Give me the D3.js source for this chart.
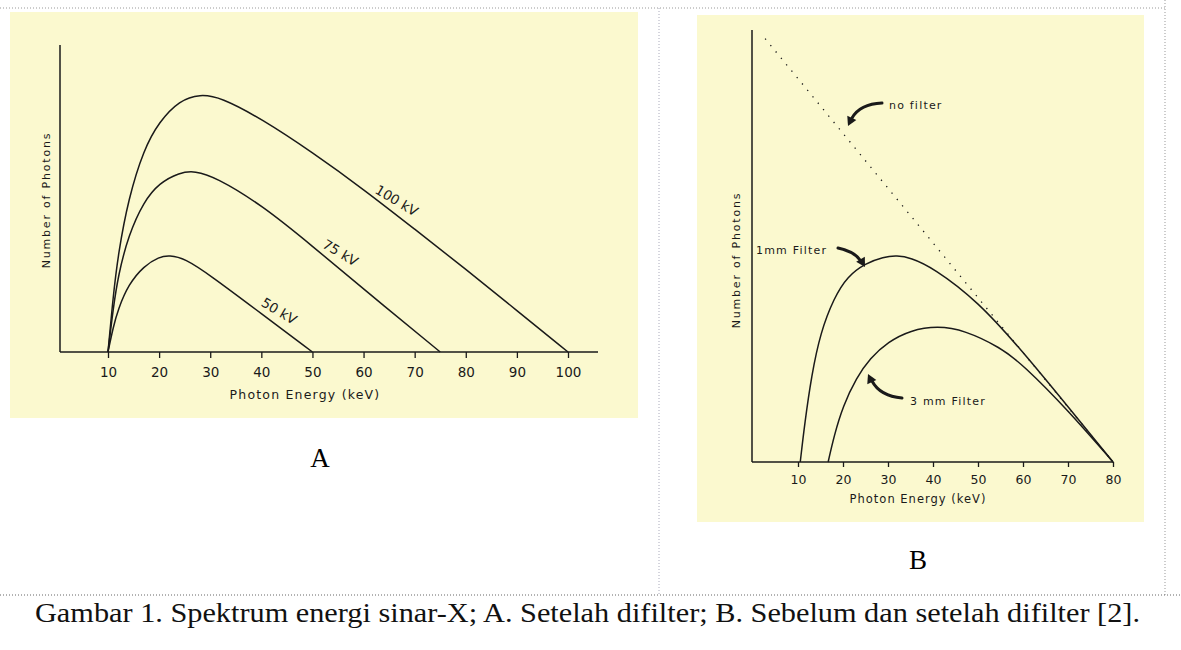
<!DOCTYPE html>
<html><head><meta charset="utf-8">
<script src="https://cdn.jsdelivr.net/npm/d3@7"></script>
<style>body{margin:0;background:#fff}svg{display:block}</style>
</head><body>
<svg id="fig" width="1181" height="650"></svg>
<script>
// --------------------------------------
//  Data
// --------------------------------------
const ticksA = [10, 20, 30, 40, 50, 60, 70, 80, 90, 100];
const kv100 = [[10,0],[11,18],[12,32],[14,50],[17,66],[20,75],[24,82],[28,84],[32,83],[40,76],[50,65],[60,53],[70,40],[80,27],[90,13.5],[100,0]];
const kv75 = [[10,0],[11,14],[12,25],[14,38],[17,49],[20,55],[24,58.5],[27,59],[31,57],[40,48],[50,34.5],[60,20.5],[75,0]];
const kv50 = [[10,0],[11,8],[12,14],[14,22],[17,28],[20,31],[22,31.5],[25,30.5],[30,25],[40,12.5],[50,0]];
const labelsA = [{t:"100 kV", x:66, y:48}, {t:"75 kV", x:55, y:31}, {t:"50 kV", x:43, y:12}];

const ticksB = [10, 20, 30, 40, 50, 60, 70, 80];
const noFilter = [[2.7,98],[80,0]];
const mm1 = [[10.5,0],[11.5,9],[13,20],[15,30],[18,38],[21,43],[25,46],[29,47.5],[32,47.8],[35,47.3],[40,45],[50,37.2],[60,25.5],[70,12.8],[80,0]];
const mm3 = [[16.7,0],[18,6],[20,13],[23,19.5],[26,24],[30,27.8],[35,30.5],[41,31.5],[47,30.5],[55,26.5],[60,22.5],[70,12],[80,0]];

const caption = "Gambar 1. Spektrum energi sinar-X; A. Setelah difilter; B. Sebelum dan setelah difilter [2].";

const svg = d3.select("#fig");
const bg = "#fbf9cf";
const ink = "#1a1a1a";

// page guides
svg.append("line").attr("x1",0).attr("x2",1165).attr("y1",8).attr("y2",8).attr("stroke","#999").attr("stroke-dasharray","1,2");
svg.append("line").attr("x1",659).attr("x2",659).attr("y1",8).attr("y2",595).attr("stroke","#aab").attr("stroke-dasharray","1,2");
svg.append("line").attr("x1",1165).attr("x2",1165).attr("y1",0).attr("y2",595).attr("stroke","#999").attr("stroke-dasharray","1,2");
svg.append("line").attr("x1",0).attr("x2",1181).attr("y1",595).attr("y2",595).attr("stroke","#666").attr("stroke-dasharray","1,2");

// --------------------------------------
//  Panel A
// --------------------------------------
svg.append("rect").attr("x",10).attr("y",12).attr("width",628).attr("height",406).attr("fill",bg);
const xA = d3.scaleLinear().domain([10,100]).range([108,568]);
const yA = d3.scaleLinear().domain([0,100]).range([352,45]);
const line = (x, y) => d3.line().x(d => x(d[0])).y(d => y(d[1])).curve(d3.curveBasis);

const gA = svg.append("g");
gA.append("g").attr("transform","translate(0,352)")
  .call(d3.axisBottom(xA).tickValues(ticksA).tickSize(6).tickPadding(9).tickSizeOuter(0))
  .call(g => g.select(".domain").attr("d","M60,0H598").attr("stroke",ink).attr("stroke-width",1.5))
  .call(g => g.selectAll(".tick line").attr("stroke",ink).attr("stroke-width",1.3))
  .call(g => g.selectAll("text").attr("font-family","DejaVu Sans").attr("font-size",13.5).attr("fill",ink));
gA.append("line").attr("x1",60).attr("x2",60).attr("y1",45).attr("y2",352).attr("stroke",ink).attr("stroke-width",1.5);
[kv100, kv75, kv50].forEach(s => gA.append("path").attr("d",line(xA,yA)(s)).attr("fill","none").attr("stroke",ink).attr("stroke-width",1.5));
labelsA.forEach(l => gA.append("text").attr("transform",`translate(${xA(l.x)},${yA(l.y)}) rotate(31)`)
  .attr("text-anchor","middle").attr("font-family","DejaVu Sans").attr("font-size",13.5).attr("fill",ink).text(l.t));
gA.append("text").attr("x",305).attr("y",399).attr("text-anchor","middle").attr("font-family","DejaVu Sans").attr("font-size",12.5).attr("letter-spacing",1.2).attr("fill",ink).text("Photon Energy (keV)");
gA.append("text").attr("transform","translate(50,200) rotate(-90)").attr("text-anchor","middle").attr("font-family","DejaVu Sans").attr("font-size",11).attr("letter-spacing",1.8).attr("fill",ink).text("Number of Photons");
svg.append("text").attr("x",320).attr("y",467).attr("text-anchor","middle").attr("font-family","Liberation Serif").attr("font-size",27).text("A");

// --------------------------------------
//  Panel B
// --------------------------------------
svg.append("rect").attr("x",697).attr("y",15).attr("width",447).attr("height",507).attr("fill",bg);
const xB = d3.scaleLinear().domain([10,80]).range([798,1113]);
const yB = d3.scaleLinear().domain([0,100]).range([462,30]);
const gB = svg.append("g");
gB.append("g").attr("transform","translate(0,462)")
  .call(d3.axisBottom(xB).tickValues(ticksB).tickSize(5).tickPadding(8).tickSizeOuter(0))
  .call(g => g.select(".domain").attr("d","M752,0H1113").attr("stroke",ink).attr("stroke-width",1.5))
  .call(g => g.selectAll(".tick line").attr("stroke",ink).attr("stroke-width",1.3))
  .call(g => g.selectAll("text").attr("font-family","DejaVu Sans").attr("font-size",12.5).attr("fill",ink));
gB.append("line").attr("x1",752).attr("x2",752).attr("y1",30).attr("y2",462).attr("stroke",ink).attr("stroke-width",1.5);
gB.append("path").attr("d",d3.line().x(d => xB(d[0])).y(d => yB(d[1]))(noFilter)).attr("fill","none").attr("stroke",ink).attr("stroke-width",1.3).attr("stroke-dasharray","1.3,7");
[mm1, mm3].forEach(s => gB.append("path").attr("d",line(xB,yB)(s)).attr("fill","none").attr("stroke",ink).attr("stroke-width",1.5));
const txt = (x, y, t, fs) => gB.append("text").attr("x",x).attr("y",y).attr("font-family","DejaVu Sans").attr("font-size",fs).attr("letter-spacing",1.2).attr("fill",ink).text(t);
txt(889,109,"no   filter",11);
txt(756,254,"1mm Filter",11);
txt(910,405,"3 mm  Filter",11);
gB.append("text").attr("transform","translate(740,260) rotate(-90)").attr("text-anchor","middle").attr("font-family","DejaVu Sans").attr("font-size",11).attr("letter-spacing",1.8).attr("fill",ink).text("Number of Photons");
gB.append("text").attr("x",918).attr("y",503).attr("text-anchor","middle").attr("font-family","DejaVu Sans").attr("font-size",11.5).attr("letter-spacing",1).attr("fill",ink).text("Photon Energy (keV)");
// arrows
const arrow = (d, tip, ang) => {
  gB.append("path").attr("d",d).attr("fill","none").attr("stroke",ink).attr("stroke-width",3).attr("stroke-linecap","round");
  gB.append("path").attr("d","M0,0L-9,-5L-9,5Z").attr("fill",ink).attr("transform",`translate(${tip[0]},${tip[1]}) rotate(${ang})`);
};
arrow("M882,103 Q860,104 852,118", [848,126], 115);
arrow("M838,248 Q855,252 860,260", [865,267], 60);
arrow("M902,398 Q880,396 872,381", [868,374], -115);
svg.append("text").attr("x",918).attr("y",569).attr("text-anchor","middle").attr("font-family","Liberation Serif").attr("font-size",27).text("B");

// caption
svg.append("text").attr("x",35).attr("y",622).attr("font-family","Liberation Serif").attr("font-size",27).attr("textLength",1105).attr("lengthAdjust","spacingAndGlyphs").attr("fill","#111").text(caption);
</script>
</body></html>
